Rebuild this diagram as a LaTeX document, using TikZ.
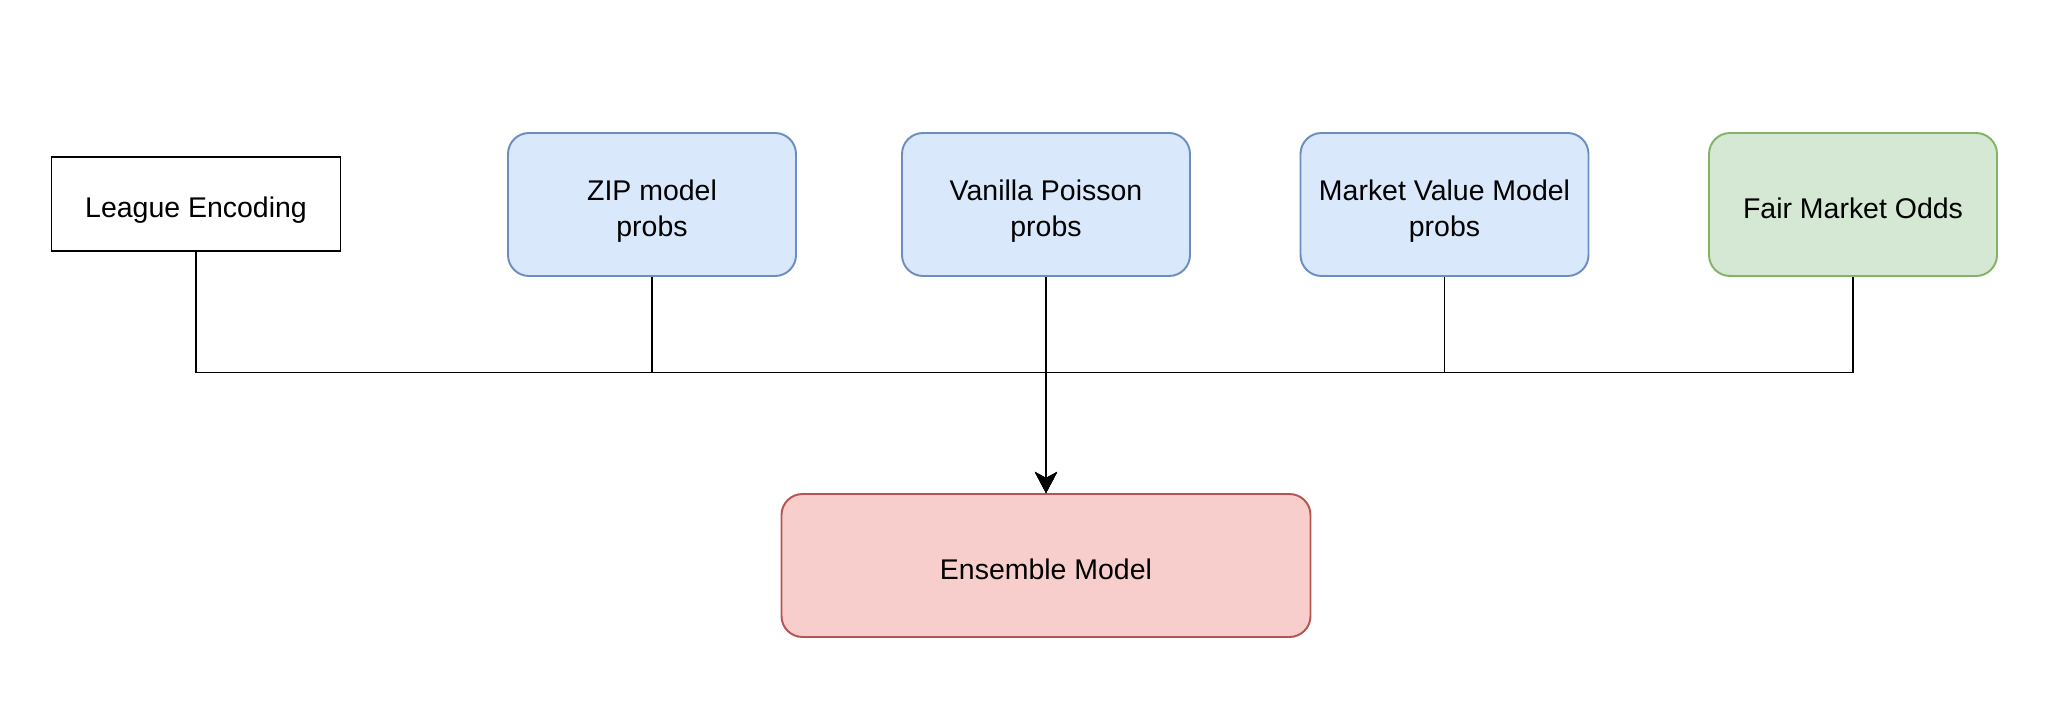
\documentclass[tikz,border=0pt]{standalone}
\usepackage{fontspec}
\setmainfont{Liberation Sans}
\usepackage{xcolor}
\usetikzlibrary{arrows.meta, calc}

\definecolor{probfill}{HTML}{DAE8FC}
\definecolor{probline}{HTML}{6C8EBF}
\definecolor{oddsfill}{HTML}{D5E8D4}
\definecolor{oddsline}{HTML}{82B366}
\definecolor{ensfill}{HTML}{F8CECC}
\definecolor{ensline}{HTML}{B85450}

\newcommand{\boxstrut}{\rule[-0.25em]{0pt}{1.45em}}

\begin{document}
\begin{tikzpicture}[>={Stealth[length=4.2mm, width=4.4mm, inset=1.2mm]},
    every node/.style={font=\fontsize{16.2}{20.5}\selectfont, align=center, inner sep=0pt},
    plainbox/.style={draw=black, line width=1.1pt, minimum width=5.78cm, minimum height=1.88cm},
    roundbox/.style={line width=1.1pt, rounded corners=4.2mm, minimum width=5.76cm, minimum height=2.86cm},
    probbox/.style={roundbox, draw=probline, fill=probfill},
    link/.style={line width=1.1pt, black}]
    \useasboundingbox (0,0) rectangle (41.28,14.08);

    % inputs
    \node[plainbox] (league) at (3.92,10.00) {\boxstrut League Encoding};
    \node[probbox] (zip) at (13.04,9.99) {\boxstrut ZIP model\\probs};
    \node[probbox] (vanilla) at (20.92,9.99) {\boxstrut Vanilla Poisson\\probs};
    \node[probbox] (market) at (28.89,9.99) {\boxstrut Market Value Model\\probs};
    \node[roundbox, draw=oddsline, fill=oddsfill] (fair) at (37.06,9.99) {\boxstrut Fair Market Odds};

    % ensemble
    \node[roundbox, draw=ensline, fill=ensfill, minimum width=10.58cm] (ens) at (20.92,2.77) {\boxstrut Ensemble Model};

    % connectors
    \coordinate (bus) at (20.92,6.63);
    \foreach \n in {league, zip, vanilla, market, fair} {
        \draw[link, ->] (\n.south) |- (bus) -- (ens.north);
    }
\end{tikzpicture}
\end{document}
